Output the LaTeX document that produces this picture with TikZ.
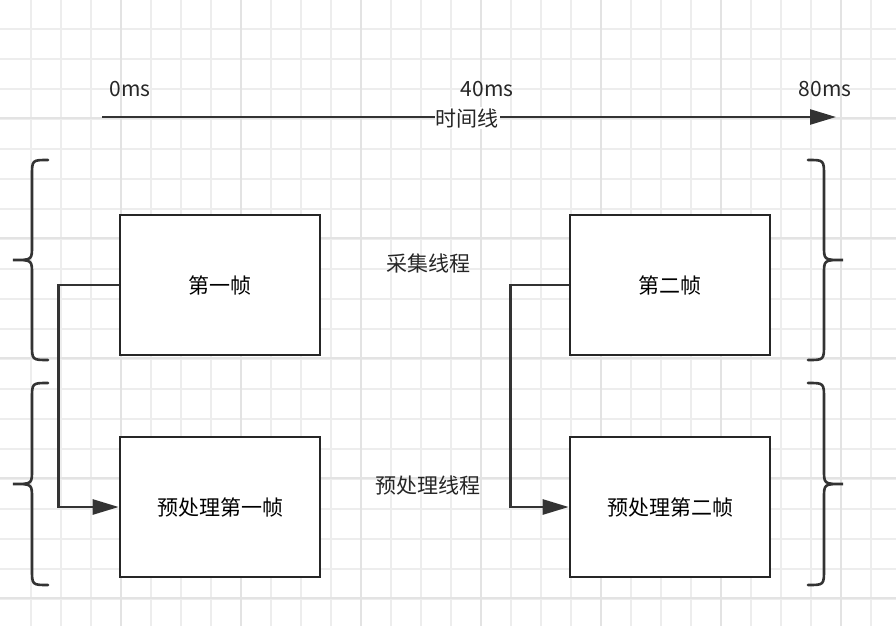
\documentclass[tikz,border=0pt]{standalone}
\usetikzlibrary{arrows.meta}
\usepackage{fontspec}
\setmainfont{Noto Sans CJK SC}
\begin{document}
\begin{tikzpicture}[x=1pt,y=-1pt,
 box/.style={draw=black!85,line width=2.6pt,fill=white,minimum width=200pt,minimum height=140pt,font=\fontsize{21}{24}\selectfont},
 lab/.style={font=\fontsize{21}{24}\selectfont,text=black!85},
 wire/.style={draw=black!80,line width=2.6pt},
 brc/.style={draw=black!80,line width=2.6pt,line cap=round}]
\useasboundingbox (0,0) rectangle (896,626);
\fill[white] (0,0) rectangle (896,626);
\foreach \i in {1,...,29} \draw[black!7,line width=1.2pt] (\i*30+1,0) -- (\i*30+1,626);
\foreach \i in {1,...,20} \draw[black!7,line width=1.2pt] (0,\i*30-1) -- (896,\i*30-1);
\foreach \i in {1,...,7} \draw[black!11,line width=1.2pt] (\i*120+1,0) -- (\i*120+1,626);
\foreach \i in {1,...,5} \draw[black!11,line width=1.2pt] (0,\i*120-2) -- (896,\i*120-2);
% timeline
\coordinate (t0) at (102,117);
\coordinate (t1) at (836,117);
\draw[wire,-{Triangle[length=26pt,width=15pt]}] (t0) -- (t1);
\node[lab,fill=white,inner sep=1pt] (tl) at (467,118) {时间线};
\node[lab] (m0) at (130,89) {0ms};
\node[lab] (m40) at (487,89) {40ms};
\node[lab] (m80) at (825,89) {80ms};
% boxes
\node[box] (a) at (220,285) {第一帧};
\node[box] (b) at (220,507) {预处理第一帧};
\node[box] (c) at (670,285) {第二帧};
\node[box] (d) at (670,507) {预处理第二帧};
\node[lab] (s1) at (428,263) {采集线程};
\node[lab] (s2) at (428,486) {预处理线程};
% connectors
\draw[wire,-{Triangle[length=26pt,width=15pt]}] (a.west) -- ++(-60,0) |- (b.west);
\draw[wire,-{Triangle[length=26pt,width=15pt]}] (c.west) -- ++(-58,0) |- (d.west);
% braces
\foreach \yt/\yb in {160/360,383/585}{
 \pgfmathsetmacro\ym{(\yt+\yb)/2}
 \draw[brc] (48,\yt) .. controls (32,\yt) .. (32,\yt+16) -- (32,\ym-14) .. controls (32,\ym) .. (13,\ym) .. controls (32,\ym) .. (32,\ym+14) -- (32,\yb-16) .. controls (32,\yb) .. (48,\yb);
 \draw[brc] (808,\yt) .. controls (824,\yt) .. (824,\yt+16) -- (824,\ym-14) .. controls (824,\ym) .. (843,\ym) .. controls (824,\ym) .. (824,\ym+14) -- (824,\yb-16) .. controls (824,\yb) .. (808,\yb);
}
\end{tikzpicture}
\end{document}
